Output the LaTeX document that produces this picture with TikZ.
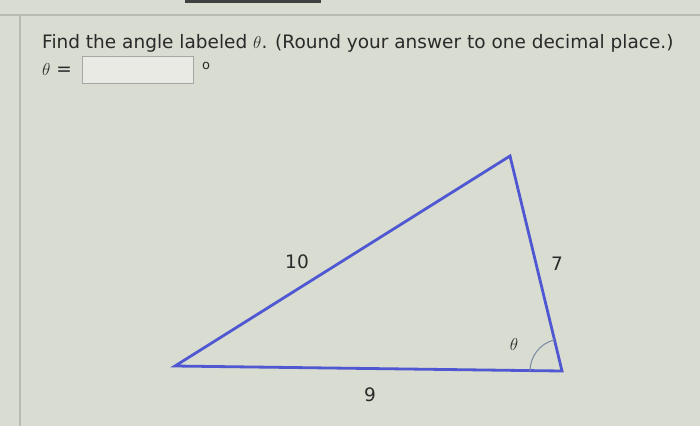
\documentclass[tikz,border=0pt]{standalone}
\usepackage{fontspec}
\setmainfont{DejaVu Sans}
\usetikzlibrary{calc}
\begin{document}
\begin{tikzpicture}[x=1pt,y=-1pt,
  tri/.style={draw=triblue,line width=2.8pt,line join=miter},
  lbl/.style={text=txt,font=\fontsize{18.5}{20}\selectfont,inner sep=0pt},
  qtext/.style={text=txt,font=\fontsize{18.5}{22}\selectfont,inner sep=0pt,anchor=base west}]
\definecolor{bg}{HTML}{D9DCD0}
\definecolor{triblue}{HTML}{4F58D2}
\definecolor{txt}{HTML}{2A2A2A}
\definecolor{arcc}{HTML}{7D8FA8}
\definecolor{frame}{HTML}{B8BBB0}
\fill[bg] (0,0) rectangle (700,426);
\useasboundingbox (0,0) rectangle (700,426);
% frame lines
\fill[black!75] (185,0) rectangle (321,3);
\draw[frame,line width=1.5pt] (0,15) -- (700,15);
\draw[frame,line width=1.5pt] (20,15) -- (20,426);
% question
\node[qtext] (q) at (42,48) {Find the angle labeled $\theta$. (Round your answer to one decimal place.)};
\node[qtext] (eq) at (42,75) {$\theta$ =};
\node[draw=gray!70,fill=white!40!bg,minimum width=111pt,minimum height=27pt,inner sep=0pt,anchor=west] (box) at (82,70) {};
\node[lbl] (deg) at (206,66) {\fontsize{13}{13}\selectfont o};
% triangle
\coordinate (A) at (175,366);
\coordinate (B) at (510,156);
\coordinate (C) at (562,371);
\draw[tri] (A) -- (B) -- (C) -- cycle;
\draw[arcc,line width=1.1pt] ($(C)+(-32,0)$) arc[start angle=180,end angle=256,radius=32];
\node[lbl] (l10) at (297,262) {10};
\node[lbl] (l7) at (557,264) {7};
\node[lbl] (l9) at (370,395) {9};
\node[lbl] (th) at (514,344) {$\theta$};
\end{tikzpicture}
\end{document}
